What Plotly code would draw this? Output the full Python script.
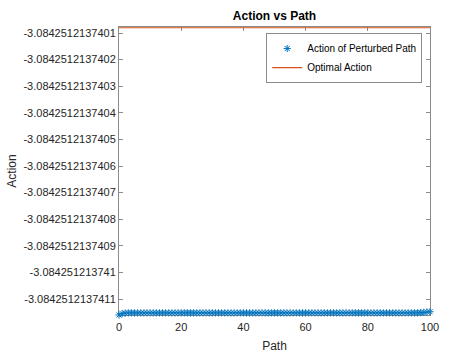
import plotly.graph_objects as go

# Data
path_index = list(range(0, 101))
perturbed_action = [
    -3.08425121374116, -3.084251213741155, -3.084251213741153, -3.084251213741152, -3.084251213741152,
    -3.084251213741152, -3.084251213741152, -3.084251213741152, -3.084251213741152, -3.084251213741152,
    -3.084251213741152, -3.084251213741152, -3.084251213741152, -3.084251213741152, -3.084251213741152,
    -3.084251213741152, -3.084251213741152, -3.084251213741152, -3.084251213741152, -3.084251213741152,
    -3.084251213741152, -3.084251213741152, -3.084251213741152, -3.084251213741152, -3.084251213741152,
    -3.084251213741152, -3.084251213741152, -3.084251213741152, -3.084251213741152, -3.084251213741152,
    -3.084251213741152, -3.084251213741152, -3.084251213741152, -3.084251213741152, -3.084251213741152,
    -3.084251213741152, -3.084251213741152, -3.084251213741152, -3.084251213741152, -3.084251213741152,
    -3.084251213741152, -3.084251213741152, -3.084251213741152, -3.084251213741152, -3.084251213741152,
    -3.084251213741152, -3.084251213741152, -3.084251213741152, -3.084251213741152, -3.084251213741152,
    -3.084251213741152, -3.084251213741152, -3.084251213741152, -3.084251213741152, -3.084251213741152,
    -3.084251213741152, -3.084251213741152, -3.084251213741152, -3.084251213741152, -3.084251213741152,
    -3.084251213741152, -3.084251213741152, -3.084251213741152, -3.084251213741152, -3.084251213741152,
    -3.084251213741152, -3.084251213741152, -3.084251213741152, -3.084251213741152, -3.084251213741152,
    -3.084251213741152, -3.084251213741152, -3.084251213741152, -3.084251213741152, -3.084251213741152,
    -3.084251213741152, -3.084251213741152, -3.084251213741152, -3.084251213741152, -3.084251213741152,
    -3.084251213741152, -3.084251213741152, -3.084251213741152, -3.084251213741152, -3.084251213741152,
    -3.084251213741152, -3.084251213741152, -3.084251213741152, -3.084251213741152, -3.084251213741152,
    -3.084251213741152, -3.084251213741152, -3.084251213741152, -3.084251213741152, -3.084251213741152,
    -3.084251213741152, -3.084251213741152, -3.084251213741151, -3.08425121374115, -3.084251213741149,
    -3.084251213741148,
]
optimal_x = [0, 100]
optimal_action = [-3.08425121374008, -3.08425121374008]

y_tick_vals = [-3.0842512137401, -3.0842512137402, -3.0842512137403, -3.0842512137404,
               -3.0842512137405, -3.0842512137406, -3.0842512137407, -3.0842512137408,
               -3.0842512137409, -3.084251213741, -3.0842512137411]
y_tick_text = ["-3.0842512137401", "-3.0842512137402", "-3.0842512137403", "-3.0842512137404",
               "-3.0842512137405", "-3.0842512137406", "-3.0842512137407", "-3.0842512137408",
               "-3.0842512137409", "-3.084251213741", "-3.0842512137411"]
x_tick_vals = [0, 20, 40, 60, 80, 100]
y_range = [-3.08425121374116, -3.084251213740077]

font_family = "Liberation Sans, Arial, sans-serif"

fig = go.Figure()
fig.add_trace(go.Scatter(
    x=path_index, y=perturbed_action, mode="markers", name="Action of Perturbed Path",
    marker=dict(symbol="asterisk-open", size=6, color="#0072BD",
                line=dict(color="#0072BD", width=1)),
    cliponaxis=False,
))
fig.add_trace(go.Scatter(
    x=optimal_x, y=optimal_action, mode="lines", name="Optimal Action",
    line=dict(color="#D95319", width=1.2),
))

axis_common = dict(
    showline=True, mirror="ticks", linecolor="#8c8c8c", linewidth=1,
    ticks="inside", ticklen=4, tickcolor="#8c8c8c", showgrid=False, zeroline=False,
    layer="below traces", automargin=False,
    tickfont=dict(family=font_family, size=11, color="#262626"),
)

fig.update_layout(
    width=474, height=355,
    margin=dict(l=119, r=44, t=27, b=40),
    paper_bgcolor="white", plot_bgcolor="white",
    font=dict(family=font_family, color="#262626"),
    title=dict(text="<b>Action vs Path</b>", x=(119 + 430) / 2 / 474, xanchor="center",
               y=1 - 16 / 355, yanchor="middle",
               font=dict(family=font_family, size=12, color="#000000")),
    xaxis=dict(range=[0, 100], tickvals=x_tick_vals, ticklabelstandoff=2,
               title=dict(text="Path", font=dict(size=12, family=font_family), standoff=9),
               **axis_common),
    yaxis=dict(range=y_range, tickvals=y_tick_vals, ticktext=y_tick_text,
               title=dict(text="Action", font=dict(size=12, family=font_family), standoff=4),
               **axis_common),
    legend=dict(x=0.975, xanchor="right", y=0.979, yanchor="top",
                bgcolor="white", bordercolor="#8c8c8c", borderwidth=1,
                font=dict(family=font_family, size=10, color="#000000"),
                tracegroupgap=0, itemwidth=30),
    showlegend=True,
)

fig.write_html("out.html")
